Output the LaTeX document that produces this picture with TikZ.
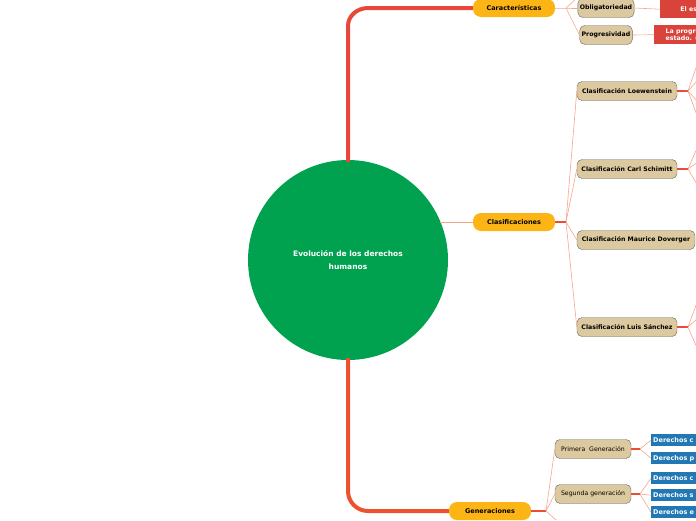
\documentclass[tikz,border=0pt]{standalone}
\usepackage{fontspec}
\setmainfont{DejaVu Sans}
\definecolor{grn}{HTML}{00A24F}
\definecolor{org}{HTML}{FDB515}
\definecolor{bei}{HTML}{DCC9A0}
\definecolor{rbx}{HTML}{D9433A}
\definecolor{bbx}{HTML}{2278B5}
\definecolor{trk}{HTML}{E8473A}
\definecolor{lnk}{HTML}{F4A58C}
\begin{document}
\begin{tikzpicture}[x=1pt,y=-1pt,
 orgn/.style={fill=org,rounded corners=8pt,minimum width=82pt,minimum height=18pt,font=\fontsize{6.5}{7}\selectfont\bfseries,inner sep=1pt},
 bein/.style={fill=bei,draw=black!60,rounded corners=5pt,minimum height=19pt,font=\fontsize{6.2}{7}\selectfont\bfseries,inner sep=2pt},
 beil/.style={bein,font=\fontsize{6.2}{7}\selectfont},
 rbox/.style={fill=rbx,anchor=north west,minimum width=60pt,text=white,font=\fontsize{6.3}{7}\selectfont\bfseries,align=left,inner sep=2pt},
 bbox/.style={fill=bbx,anchor=north west,minimum width=50pt,minimum height=12pt,text=white,font=\fontsize{6.5}{7}\selectfont\bfseries,inner sep=2pt,text width=46pt},
 lk/.style={draw=lnk,line width=0.6pt},
 lkt/.style={draw=trk!90!orange,line width=1.2pt}]
\useasboundingbox (0,0) rectangle (696,520);
\clip (0,0) rectangle (696,520);
\node[circle,fill=grn,minimum size=200pt,text=white,font=\fontsize{7.5}{13}\selectfont\bfseries,align=center] (c) at (348,260) {Evolución de los derechos\\humanos};
\node[orgn] (car) at (514,8) {Características};
\node[orgn] (cla) at (514,222) {Clasificaciones};
\node[orgn] (gen) at (490,511) {Generaciones};
\draw[trk,line width=4pt] (348,162) -- (348,26) to[out=90,in=180] (368,8) -- (car.west);
\draw[trk!80!orange,line width=4pt] (348,358) -- (348,491) to[out=-90,in=180] (368,511) -- (gen.west);
\coordinate (ce) at (440,222);
\draw[lk] (ce) -- (cla.west);
\node[bein] (obl) at (606,8) {Obligatoriedad};
\node[bein] (pro) at (606,35) {Progresividad};
\node[bein,minimum width=100pt] (loe) at (627,91) {Clasificación Loewenstein};
\node[bein,minimum width=100pt] (sch) at (627,169) {Clasificación Carl Schimitt};
\node[bein,minimum width=118pt] (dov) at (636,240) {Clasificación Maurice Doverger};
\node[bein,minimum width=100pt] (san) at (627,327) {Clasificación Luis Sánchez};
\node[beil,minimum width=76pt] (pri) at (593,449) {Primera\ \ Generación};
\node[beil,minimum width=76pt] (seg) at (593,494) {Segunda generación};
\coordinate (j1) at (566,8); \coordinate (j2) at (566,222); \coordinate (j3) at (546,511);
\draw[lk] (car.east) -- (j1) -- (obl.west); \draw[lk] (j1) -- (pro.west); \draw[lk] (j1) -- (575,0);
\draw[lk] (cla.east) -- (j2); \foreach \n in {loe,sch,dov,san} \draw[lk] (j2) -- (\n.west);
\draw[lkt] (cla.east) -- (j2);
\draw[lkt] (gen.east) -- (j3); \foreach \n in {pri,seg} \draw[lk] (j3) -- (\n.west); \draw[lk] (j3) -- (556,520);
\node[rbox,minimum height=18pt] (r1) at (660,0) {\ \ El esta};
\node[rbox,minimum height=19pt] (r2) at (654,25) {La progre\\estado. (V};
\draw[lk] (obl.east) -- (r1.west); \draw[lk] (pro.east) -- (r2.west);
\node[bbox] (b1) at (651,434) {Derechos c};
\node[bbox] (b2) at (651,452) {Derechos p};
\node[bbox] (b3) at (651,472) {Derechos c};
\node[bbox] (b4) at (651,489) {Derechos s};
\node[bbox] (b5) at (651,506) {Derechos e};
\coordinate (p1) at (640,449); \coordinate (p2) at (640,494);
\draw[lkt] (pri.east) -- (p1); \draw[lk] (p1) -- (b1.west); \draw[lk] (p1) -- (b2.west);
\draw[lkt] (seg.east) -- (p2); \foreach \b in {b3,b4,b5} \draw[lk] (p2) -- (\b.west);
\coordinate (q1) at (688,91); \coordinate (q2) at (688,169); \coordinate (q3) at (688,327);
\draw[lkt] (loe.east) -- (q1); \foreach \y in {62,80,102,118} \draw[lk] (q1) -- (698,\y);
\draw[lkt] (sch.east) -- (q2); \foreach \y in {146,162,186} \draw[lk] (q2) -- (698,\y);
\draw[lkt] (san.east) -- (q3); \foreach \y in {300,318,350} \draw[lk] (q3) -- (698,\y);
\end{tikzpicture}
\end{document}
